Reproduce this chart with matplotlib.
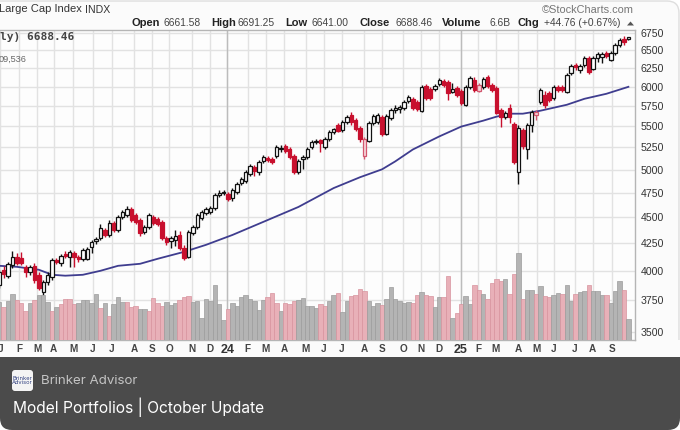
import numpy as np
import matplotlib
matplotlib.use('Agg')
import matplotlib.pyplot as plt
from matplotlib.patches import FancyBboxPatch, Rectangle, Polygon

plt.rcParams['font.family'] = ['Liberation Sans', 'DejaVu Sans']

# Weekly candles, oldest first
opens = [3881,4011,3959,4055,4127,4118,4037,3993,4046,3967,3822,3907,3950,4100,4073,4154,4127,4163,4127,4109,
         4109,4218,4274,4302,4378,4330,4446,4378,4505,4525,4585,4525,4475,4359,4407,4505,4485,4456,4302,4274,
         4283,4330,4209,4127,4350,4407,4495,4545,4555,4595,4727,4748,4737,4696,4758,4851,4873,4948,5024,4969,
         5091,5124,5113,5147,5226,5261,5226,5147,4969,5113,5135,5249,5307,5330,5249,5342,5424,5519,5448,5555,
         5641,5580,5483,5147,5319,5543,5555,5616,5401,5604,5703,5715,5727,5816,5841,5803,5690,6010,5971,5971,
         6036,6076,6063,5932,5984,5945,5765,5997,6090,6023,5997,6130,6023,5984,5703,5616,5727,5531,4969,5448,
         5226,5519,5678,5803,5893,5919,5854,5997,5990,5932,6184,6293,6225,6293,6390,6238,6390,6404,6460,6362,
         6460,6574,6661,6661.58]
closes = [3993,3976,4064,4127,4073,4073,3993,4037,3924,3856,3907,3967,4100,4082,4136,4136,4172,4127,4109,4191,
          4200,4265,4293,4398,4330,4446,4378,4505,4555,4585,4475,4456,4350,4407,4525,4446,4436,4302,4265,4302,
          4321,4209,4118,4359,4407,4525,4555,4585,4595,4727,4748,4758,4686,4779,4841,4894,4969,5035,4980,5079,
          5135,5102,5079,5249,5237,5203,5135,4969,5091,5135,5226,5307,5318,5296,5342,5424,5460,5436,5555,5616,
          5555,5460,5342,5342,5543,5628,5641,5401,5628,5703,5727,5740,5803,5867,5727,5715,5997,5854,5854,6010,
          6090,6023,5919,5971,5893,5791,5997,6116,5958,5945,6103,6010,5958,5665,5616,5665,5616,5079,5483,5261,
          5519,5678,5641,5958,5765,5829,5997,5958,5952,6157,6279,6266,6279,6390,6197,6390,6446,6446,6418,6460,
          6574,6647,6618,6688.46]
highs = [4011,4046,4083,4181,4163,4172,4055,4055,4073,3993,3924,3993,4118,4118,4154,4181,4191,4181,4145,4209,
         4218,4283,4311,4436,4398,4475,4466,4525,4575,4615,4605,4545,4495,4427,4545,4525,4505,4475,4321,4321,
         4378,4369,4237,4378,4427,4545,4575,4605,4615,4748,4779,4779,4758,4800,4862,4916,4991,5057,5046,5102,
         5158,5147,5135,5272,5272,5284,5249,5169,5113,5158,5249,5330,5342,5342,5366,5448,5483,5543,5580,5641,
         5678,5604,5507,5366,5567,5653,5665,5641,5653,5727,5765,5765,5829,5893,5867,5829,6023,6036,5997,6036,
         6116,6103,6090,6050,6010,5971,6023,6143,6130,6050,6130,6157,6050,6010,5727,5690,5778,5555,5519,5483,
         5543,5703,5703,5984,5945,5945,6023,6023,6015,6184,6307,6321,6307,6418,6418,6418,6474,6474,6488,6488,
         6603,6676,6705,6691.25]
lows = [3856,3941,3941,4029,4055,4055,3950,3967,3898,3839,3796,3881,3924,4064,4046,4118,4037,4037,4082,4091,
        4100,4163,4246,4283,4311,4311,4359,4359,4485,4505,4456,4436,4321,4340,4388,4427,4417,4283,4237,4209,
        4227,4191,4100,4118,4330,4388,4475,4525,4535,4575,4706,4727,4665,4665,4737,4830,4851,4926,4926,4937,
        5068,5079,5057,5124,5192,5180,5113,4948,4948,5002,5113,5226,5284,5192,5226,5319,5401,5424,5424,5531,
        5519,5436,5307,5113,5307,5519,5531,5377,5389,5580,5665,5665,5703,5791,5703,5690,5678,5829,5829,5945,
        6010,5997,5829,5919,5867,5765,5753,5971,5932,5932,5971,5984,5932,5653,5495,5592,5543,5057,4841,5226,
        5113,5424,5580,5778,5727,5803,5829,5932,5932,5919,6157,6225,6184,6266,6170,6225,6334,6321,6390,6348,
        6432,6546,6574,6641.00]

# Hollow candles that closed under the prior week, drawn in light red
hollow_red = [83, 109, 122]

# Weekly volume in billions, with the down weeks flagged by "r"
volume = [11.9,10.4,12.2,14.4,12.6,11.6,9.1,11.6,12.6,14.1,14.1,11.9,9.1,10.4,11.3,12.9,12.9,11.3,11.6,12.6,
          12.6,11.6,14.4,10.0,11.6,7.5,11.3,13.5,11.9,11.9,10.4,10.7,9.7,9.7,9.1,13.2,11.6,10.7,11.9,11.0,
          11.6,12.6,13.5,13.8,11.9,12.2,6.9,12.9,12.2,17.3,11.3,6.3,9.7,
          11.6,10.7,13.5,14.1,12.9,12.2,9.4,12.6,13.5,14.8,11.6,9.1,11.6,11.3,12.2,12.6,13.2,10.7,10.7,10.0,
          11.3,10.7,12.2,14.1,14.8,
          8.8,12.2,13.8,14.1,16.0,15.4,12.2,10.7,11.6,11.0,12.9,16.6,12.9,12.2,11.6,11.9,11.6,14.1,15.1,14.1,
          13.8,10.4,13.5,13.5,20.1,6.9,8.5,11.3,13.8,11.3,17.3,15.7,14.4,12.9,17.9,19.2,18.5,19.2,14.4,20.7,
          27.3,12.9,15.7,15.7,14.4,17.0,13.8,13.5,14.1,14.8,14.4,17.3,12.2,14.4,15.1,15.4,17.3,15.4,15.4,14.1,
          14.1,11.6,15.4,18.5,15.7,6.6]
volume_dir = ("grggrrrgrggg" "rgrrrr" "ggggg" "r" "g" "r" "ggg" "rrr" "gg" "rrrr" "ggg" "rrr" "gggggggg" "r"
              "ggggggggrrrgrrrgggggrrggr"
              "ggrrrrgggrggggggrrgrrggrrgrrggrrgrrrrgrrgrggrgrrggrggrggrgggrgggrg")

# 40 week moving average, read at these weeks
ma_weeks = [0,4,9,12,15,19,23,27,32,36,42,47,53,60,68,76,82,87,90,94,100,105,110,113,116,119,123,129,133,138,143]
ma_values = [4046,4037,4011,3967,3959,3967,4002,4046,4064,4109,4172,4237,4330,4456,4605,4800,4916,5002,5090,5225,5377,
             5495,5567,5616,5653,5653,5690,5765,5841,5906,5997]

price_ticks = [6750,6500,6250,6000,5750,5500,5250,5000,4750,4500,4250,4000,3750,3500]

month_pos = [0.2,4.5,8.6,12.4,16.8,21.3,25.6,30.6,34.7,38.6,43.8,47.9,51.8,56.5,60.6,64.7,69.7,73.8,77.9,82.9,87,
             91.8,95.8,99.9,104.9,108.8,112.9,117.9,122.2,126,130.8,134.9,139.3]
month_labels = ['J','F','M','A','M','J','J','A','S','O','N','D','24','F','M','A','M','J','J','A','S',
                'O','N','D','25','F','M','A','M','J','J','A','S']

opens, closes, highs, lows = map(np.array, (opens, closes, highs, lows))
weeks = np.arange(len(closes))

fig = plt.figure(figsize=(6.8, 4.3), dpi=100, facecolor='white')
W, H = 680.0, 430.0

# Card behind the chart, then the dark caption panel with rounded lower corners
bg = fig.add_axes([0, 0, 1, 1], zorder=0)
bg.set_xlim(0, W)
bg.set_ylim(H, 0)
bg.axis('off')
bg.add_patch(FancyBboxPatch((-20, 1), 699, 420, boxstyle='round,pad=0,rounding_size=12',
                            fc='#fbfbfb', ec='#dedede', lw=1))
bg.add_patch(Rectangle((0, 357), W, 73, fc='white', ec='none'))
bg.add_patch(FancyBboxPatch((0, 340), W, 90, boxstyle='round,pad=0,rounding_size=12', fc='#4b4b4b', ec='none'))
bg.add_patch(Rectangle((0, 340), W, 17, fc='#fbfbfb', ec='none'))

ax = fig.add_axes([0, (H - 340) / H, 635 / W, 310 / H], zorder=1)
ax.patch.set_facecolor('#fdfdfd')
ax.set_yscale('log')
ax.set_xlim(0.16, 144.5)
ax.set_ylim(3437, 6795)
ax.yaxis.set_minor_locator(matplotlib.ticker.NullLocator())
ax.set_yticks(price_ticks)
ax.set_yticklabels([str(p) for p in price_ticks], fontsize=7.6, color='#333333')
ax.set_xticks(month_pos)
ax.set_xticklabels(month_labels, fontsize=7.2, color='#444444', fontweight='bold')
ax.tick_params(axis='both', length=0, pad=3)
ax.grid(True, color='#e2e2e2', lw=1)
ax.set_axisbelow(True)
for lab in ax.get_xticklabels():
    if lab.get_text() in ('24', '25'):
        lab.set_fontsize(9)
        lab.set_color('#333333')
for pos, lab in zip(month_pos, month_labels):
    if lab in ('24', '25'):
        ax.axvline(pos, color='#bcbcbc', lw=1, zorder=0.6)
ax.spines['left'].set_visible(False)
for side in ('top', 'right', 'bottom'):
    ax.spines[side].set_color('#b5b5b5')
    ax.spines[side].set_linewidth(1)

# Moving average under the candles
ax.plot(ma_weeks, ma_values, color='#3f3d8f', lw=1.3, zorder=2)

# Candles
up = closes >= opens
edge = np.where(up, '#111111', '#c8102e').astype(object)
face = np.where(up, '#ffffff', '#c8102e').astype(object)
for i in hollow_red:
    edge[i] = '#d2566e'
    face[i] = '#f6d5da'
ax.vlines(weeks, lows, highs, colors=list(edge), lw=1.0, zorder=3)
ax.bar(weeks, closes - opens, bottom=opens, width=0.78, color=list(face), edgecolor=list(edge), lw=0.9, zorder=4)

# Volume on its own scale along the bottom
vol_ax = ax.twinx()
vol_ax.set_ylim(0, 97.4)
vol_ax.set_yticks([])
vol_ax.patch.set_visible(False)
for s in vol_ax.spines.values():
    s.set_visible(False)
ax.yaxis.tick_right()
ax.tick_params(axis='y', length=0, pad=4)
vol_face = ['#e8b0b8' if d == 'r' else '#b4b4b4' for d in volume_dir]
vol_edge = ['#d8939e' if d == 'r' else '#9c9c9c' for d in volume_dir]
vol_ax.bar(np.arange(len(volume)), volume, width=1.0, color=vol_face, edgecolor=vol_edge, lw=0.5)

# Header and footer text sit on a full size overlay in pixel units
top = fig.add_axes([0, 0, 1, 1], zorder=5)
top.set_xlim(0, W)
top.set_ylim(H, 0)
top.axis('off')


def put(x, y, s, size, color='#333333', weight='normal', family=None):
    kw = {'family': family} if family else {}
    top.text(x, y, s, fontsize=size, color=color, fontweight=weight, va='center', ha='left', **kw)


put(-1, 9.5, 'Large Cap Index', 8.0, '#333333')
put(85, 10, 'INDX', 7.6, '#333333')
header = [(131, 'Open', 1), (164, '6661.58', 0), (211, 'High', 1), (238, '6691.25', 0), (285, 'Low', 1),
          (312, '6641.00', 0), (359, 'Close', 1), (395, '6688.46', 0), (442, 'Volume', 1), (489, '6.6B', 0),
          (518, 'Chg', 1), (544, '+44.76 (+0.67%)', 0)]
for x, s, bold in header:
    put(x, 23, s, 8.0 if bold else 7.4, '#222222' if bold else '#444444', 'bold' if bold else 'normal')
top.add_patch(Polygon([[627, 25.5], [634, 25.5], [630.5, 21.5]], closed=True, fc='#555555', ec='none'))
put(542, 10, '©StockCharts.com', 7.9, '#777777')
put(0, 37, 'ly) 6688.46', 8, '#444444', 'bold', 'DejaVu Sans Mono')
put(-1, 59, '09,536', 6.6, '#666666')

top.add_patch(FancyBboxPatch((12, 370), 21, 21, boxstyle='round,pad=0,rounding_size=3', fc='#f4f4f4', ec='none'))
top.text(22.5, 380.5, 'Brinker\nAdvisor', fontsize=4.1, color='#2f3f7f', ha='center', va='center', linespacing=0.95,
         family='Inter')
put(41, 381, 'Brinker Advisor', 9.6, '#c4c4c4', 'normal', 'Inter')
put(13, 407, 'Model Portfolios | October Update', 11.2, '#ffffff', 'normal', 'Inter')

fig.savefig('out.png', dpi=100)
